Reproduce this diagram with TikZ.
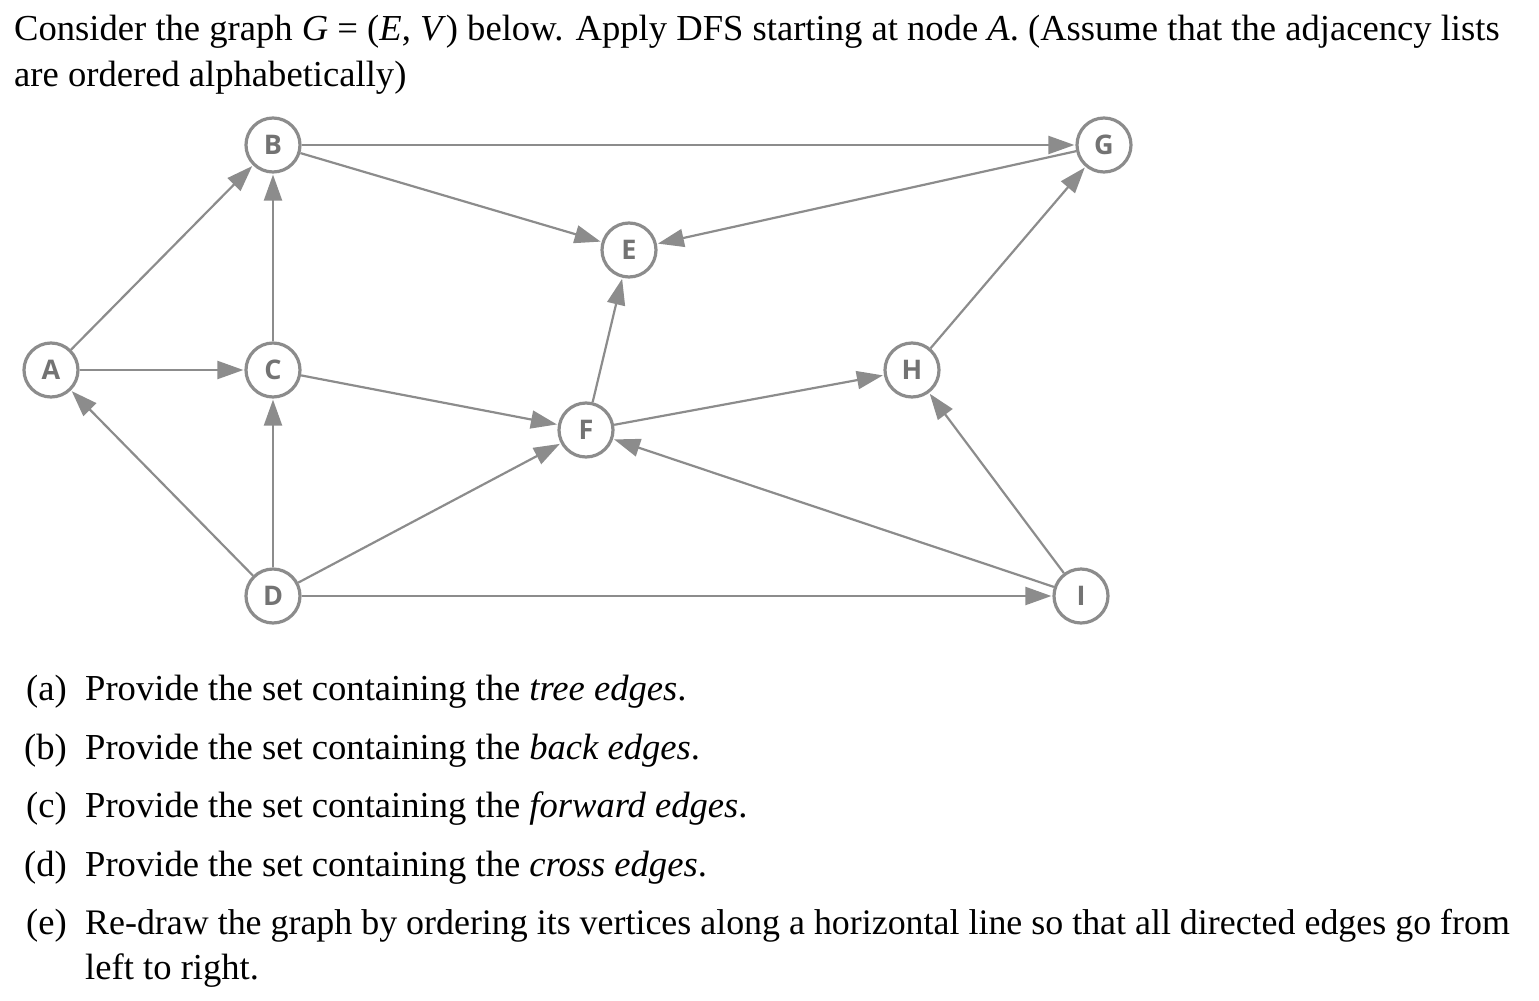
\documentclass[tikz,border=0pt]{standalone}
\usepackage{fontspec}
\setmainfont{Liberation Serif}
\newfontfamily\nodefont{Open Sans}
\usetikzlibrary{arrows.meta}
\tikzset{
 vx/.style={circle,draw=gray!90,line width=3.2pt,fill=white,minimum size=54pt,inner sep=0pt,font=\nodefont\bfseries\fontsize{27}{27}\selectfont,text=gray!90!black},
 ed/.style={draw=gray!90,line width=2.2pt,-{Triangle[length=26pt,width=18pt]},shorten >=1pt},
 txt/.style={anchor=base west,inner sep=0pt,font=\fontsize{36.6}{44}\selectfont}
}
\begin{document}
\begin{tikzpicture}[x=1pt,y=-1pt]
\useasboundingbox (0,0) rectangle (1539,1001);
\node[txt] (l1) at (14,40) {Consider the graph \textit{G} = (\textit{E}, \textit{V}) below. Apply DFS starting at node \textit{A}. (Assume that the adjacency lists};
\node[txt] (l2) at (14,86) {are ordered alphabetically)};
\node[vx] (A) at (51,370) {A};
\node[vx] (B) at (273,145) {B};
\node[vx] (C) at (273,370) {C};
\node[vx] (D) at (273,596) {D};
\node[vx] (E) at (629,250) {E};
\node[vx] (F) at (586,430) {F};
\node[vx] (G) at (1104,145) {G};
\node[vx] (H) at (912,370) {H};
\node[vx] (I) at (1081,596) {I};
\foreach \a/\b in {A/B,A/C,D/A,C/B,D/C,B/G,B/E,G/E,C/F,D/F,F/E,F/H,I/F,H/G,I/H,D/I}
  \draw[ed] (\a) -- (\b);
\node[txt] (a1) at (26,700) {(a)}; \node[txt] (a2) at (85,700) {Provide the set containing the \emph{tree edges}.};
\node[txt] (b1) at (24,759) {(b)}; \node[txt] (b2) at (85,759) {Provide the set containing the \emph{back edges}.};
\node[txt] (c1) at (26,817) {(c)}; \node[txt] (c2) at (85,817) {Provide the set containing the \emph{forward edges}.};
\node[txt] (d1) at (24,876) {(d)}; \node[txt] (d2) at (85,876) {Provide the set containing the \emph{cross edges}.};
\node[txt] (e1) at (26,934) {(e)}; \node[txt,font=\fontsize{35.9}{44}\selectfont] (e2) at (85,934) {Re-draw the graph by ordering its vertices along a horizontal line so that all directed edges go from};
\node[txt] (e3) at (85,979) {left to right.};
\end{tikzpicture}
\end{document}
